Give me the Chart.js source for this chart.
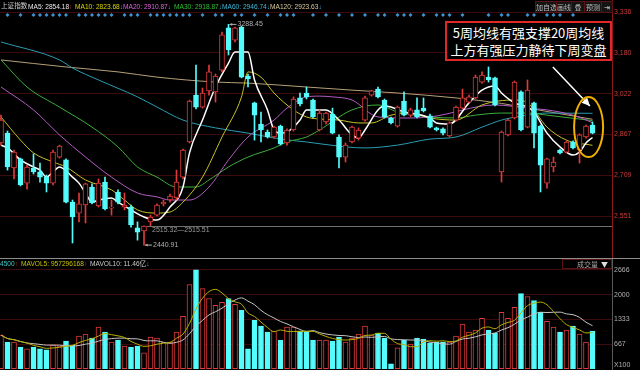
<!DOCTYPE html>
<html>
<head>
<meta charset="utf-8">
<title>上证指数 周K线</title>
<script src="https://cdn.jsdelivr.net/npm/chart.js@4.4.1/dist/chart.umd.min.js"></script>
<style>
  html, body { margin: 0; padding: 0; background: #000; }
  #wrap { position: relative; width: 640px; height: 370px; overflow: hidden; background: #000;
          font-family: "Liberation Sans", Arial, sans-serif; }
  #priceCanvas { position: absolute; left: 0; top: 0; }
  #volCanvas { position: absolute; left: 0; top: 259px; }
  .sep { position: absolute; left: 0; top: 258px; width: 640px; height: 1px; background: #8c8c8c; }
  .lbl { position: absolute; font-size: 6.6px; line-height: 9px; white-space: nowrap; }
  .cjk { font-family: "Noto Sans CJK SC", sans-serif; }
  .up { color: #ff3030; }
  .dn { color: #35b8e0; }
  .btn { position: absolute; top: 1px; height: 12px; box-sizing: border-box; border: 1px solid #5a1212;
         background: #141414; color: #bcbcbc; font: 7px "Noto Sans CJK SC", sans-serif; line-height: 10px;
         text-align: center; white-space: nowrap; }
  #note { position: absolute; left: 445px; top: 21px; width: 167px; height: 40px; box-sizing: border-box;
          border: 2px solid #e02828; background: #000; color: #fff; font: 13px "Noto Sans CJK SC", sans-serif;
          line-height: 17px; text-align: center; padding-top: 1px; }
  #volSel { position: absolute; left: 562px; top: 259px; width: 50px; height: 10px; box-sizing: border-box;
            border: 1px solid #5a1212; color: #a8a8a8; font: 7px "Noto Sans CJK SC", sans-serif; line-height: 8px; }
</style>
</head>
<body>
<div id="wrap">
  <canvas id="priceCanvas" width="640" height="258"></canvas>
  <div class="sep"></div>
  <canvas id="volCanvas" width="640" height="111"></canvas>

  <!-- top header -->
  <div class="lbl cjk" style="left:1px;top:1px;color:#d0d0d0">上证指数</div>
  <div class="lbl" style="left:28px;top:2px;color:#e8e8e8">MA5: 2854.18<span class="up">↑</span></div>
  <div class="lbl" style="left:75px;top:2px;color:#d8d800">MA10: 2823.68<span class="dn">↓</span></div>
  <div class="lbl" style="left:123px;top:2px;color:#e060e0">MA20: 2910.87<span class="dn">↓</span></div>
  <div class="lbl" style="left:174px;top:2px;color:#30c030">MA30: 2918.87<span class="dn">↓</span></div>
  <div class="lbl" style="left:222px;top:2px;color:#40b8d8">MA60: 2946.74<span class="dn">↓</span></div>
  <div class="lbl" style="left:270px;top:2px;color:#d8c8a0">MA120: 2923.63<span class="dn">↓</span></div>

  <div class="btn" style="left:535px;width:22px">加自选</div>
  <div class="btn" style="left:556px;width:16px">画线</div>
  <div class="btn" style="left:571px;width:14px">叠</div>
  <div class="btn" style="left:584px;width:18px">预测</div>
  <div class="btn" style="left:601px;width:12px;color:#e0e0e0">⇥</div>

  <div id="note">5周均线有强支撑20周均线<br>上方有强压力静待下周变盘</div>

  <!-- volume header -->
  <div class="lbl" style="left:0px;top:259px;color:#40c8c8">4500<span class="up">↑</span></div>
  <div class="lbl" style="left:21px;top:259px;color:#c8c000">MAVOL5: 957296168<span class="up">↑</span></div>
  <div class="lbl" style="left:90px;top:259px;color:#c8c8c8">MAVOL10: 11.46<span class="cjk">亿</span><span class="dn">↓</span></div>
  <div id="volSel"><span style="position:absolute;left:14px;top:0">成交量</span><span style="position:absolute;right:3px;top:0;color:#ddd">▼</span></div>
</div>

<script>
// weekly candles (index = week)
const openP = [2833, 2871, 2737, 2772, 2679, 2737, 2722, 2702, 2679, 2779,
  2768, 2606, 2564, 2595, 2664, 2591, 2683, 2583, 2645, 2587,
  2587, 2507, 2495, 2530, 2556, 2599, 2614, 2622, 2702, 2837,
  3017, 2971, 3033, 3029, 3113, 3275, 3228, 3278, 3090, 2987,
  2906, 2875, 2856, 2898, 2833, 2883, 3006, 3025, 2998, 2883,
  2914, 2944, 2856, 2779, 2837, 2852, 2921, 3017, 3040, 2998,
  2929, 2898, 2994, 2940, 2960, 2967, 2937, 2891, 2887, 2860,
  2921, 2967, 2990, 3006, 3067, 3086, 3083, 2722, 2864, 2929,
  3029, 2894, 2987, 2898, 2679, 2741, 2806, 2798, 2837, 2806,
  2856, 2902];
const highP = [2940, 2879, 2806, 2775, 2748, 2791, 2756, 2710, 2806, 2825,
  2772, 2614, 2641, 2679, 2676, 2695, 2702, 2614, 2653, 2641,
  2595, 2530, 2515.32, 2556, 2599, 2614, 2637, 2729, 2810, 2998,
  3132, 3044, 3132, 3098, 3259, 3288.45, 3278, 3282, 3098, 2990,
  2952, 2883, 2898, 2902, 2887, 3010, 3025, 3048, 3002, 2960,
  2952, 2967, 2864, 2833, 2898, 2891, 3013, 3036, 3048, 3002,
  2933, 2975, 3029, 2967, 3006, 3006, 2944, 2894, 2891, 2914,
  2975, 3040, 3017, 3094, 3106, 3125, 3086, 2879, 2925, 3071,
  3033, 3075, 2990, 2902, 2775, 2779, 2810, 2841, 2841, 2868,
  2902, 2914];
const lowP = [2825, 2729, 2695, 2668, 2656, 2714, 2683, 2645, 2672, 2775,
  2603, 2449, 2530, 2526, 2599, 2587, 2576, 2556, 2599, 2576,
  2510, 2460, 2440.91, 2515.51, 2553, 2591, 2606, 2614, 2695, 2833,
  2964, 2967, 3017, 2990, 3106, 3171, 3221, 3083, 3048, 2844,
  2837, 2852, 2852, 2825, 2825, 2879, 2975, 3002, 2929, 2879,
  2906, 2868, 2737, 2760, 2833, 2844, 2917, 3013, 3006, 2929,
  2906, 2894, 2937, 2933, 2929, 2952, 2891, 2879, 2864, 2856,
  2917, 2964, 2987, 3002, 3063, 3067, 2975, 2683, 2860, 2925,
  2879, 2891, 2814, 2645, 2660, 2722, 2791, 2795, 2810, 2756,
  2852, 2868];
const closeP = [2921, 2741, 2798, 2672, 2741, 2722, 2702, 2679, 2798, 2821,
  2606, 2549, 2599, 2676, 2603, 2679, 2580, 2587, 2606, 2595,
  2518, 2491, 2514, 2549, 2595, 2606, 2629, 2683, 2806, 2994,
  2971, 3025, 3106, 3090, 3248, 3190, 3275, 3086, 3079, 2940,
  2883, 2856, 2894, 2829, 2883, 3002, 2983, 3010, 2933, 2948,
  2948, 2871, 2779, 2825, 2894, 2883, 3006, 3033, 3010, 2933,
  2910, 2971, 2940, 2960, 2933, 2956, 2894, 2883, 2871, 2910,
  2971, 3006, 3010, 3086, 3094, 3075, 2979, 2875, 2921, 3067,
  2883, 3036, 2871, 2748, 2772, 2760, 2795, 2837, 2814, 2864,
  2898, 2871];
// weekly volume, in units of 1e6
const volume = [908, 721, 721, 587, 534, 587, 534, 507, 641, 614,
  748, 641, 881, 935, 828, 1121, 988, 721, 774, 614,
  587, 614, 427, 854, 828, 721, 721, 988, 1415, 2270,
  2670, 2163, 1896, 1709, 1789, 1896, 1736, 1575, 534, 1308,
  1148, 988, 1015, 774, 1121, 1121, 1015, 1015, 774, 774,
  774, 748, 854, 721, 828, 935, 1148, 908, 961, 828,
  134, 561, 774, 668, 828, 801, 694, 721, 721, 721,
  881, 1202, 988, 1041, 1362, 1041, 961, 1522, 1362, 1655,
  2029, 1949, 1842, 1522, 1282, 1121, 988, 1041, 1148, 935,
  721, 1015];

// moving-average lines: [week, value]
const ma5Pts = [[0,2825],[1,2814],[3,2768],[5,2741],[6,2729],[7,2702],[8,2722],[9,2741],[11,2702],[12,2679],
  [13,2641],[14,2606],[15,2614],[17,2622],[18,2606],[20,2576],[22,2549],[24,2537],[26,2587],[28,2664],
  [29,2795],[31,2921],[33,3048],[35,3140],[36,3182],[38,3182],[39,3075],[41,2960],[42,2883],[43,2871],
  [44,2875],[46,2921],[47,2960],[50,2960],[52,2921],[54,2864],[55,2852],[56,2883],[58,2960],[59,2975],
  [60,2971],[62,2952],[63,2948],[66,2929],[67,2910],[69,2906],[72,2987],[74,3036],[76,3052],[77,3025],
  [79,2987],[81,2971],[82,2952],[84,2871],[86,2818],[88,2787],[89,2798],[90,2833],[91,2854]];
const ma10Pts = [[0,2933],[3,2844],[5,2795],[8,2760],[10,2741],[13,2691],[17,2653],[19,2614],[21,2576],[24,2564],
  [26,2568],[28,2606],[31,2702],[34,2856],[37,3010],[38,3106],[40,3086],[42,3025],[45,2960],[47,2933],
  [49,2925],[52,2921],[55,2910],[57,2910],[60,2940],[63,2948],[66,2929],[70,2921],[74,2979],[79,2998],
  [81,2987],[84,2894],[87,2844],[91,2824]];
const ma20Pts = [[0,3048],[5,2960],[9,2864],[13,2779],[17,2702],[21,2641],[24,2626],[26,2614],[29,2614],[32,2664],
  [35,2768],[38,2856],[42,2921],[44,2967],[47,3010],[49,3013],[51,3010],[54,2998],[58,2933],[62,2929],
  [66,2933],[76,2979],[81,2967],[84,2960],[88,2940],[91,2911]];
const ma30Pts = [[0,3152],[4,3048],[9,2971],[14,2894],[18,2818],[21,2741],[24,2702],[27,2664],[30,2664],[32,2691],
  [35,2741],[38,2779],[42,2814],[44,2837],[47,2856],[49,2883],[54,2960],[58,2979],[61,2952],[66,2933],
  [70,2929],[73,2940],[77,2948],[81,2948],[84,2940],[91,2919]];
const ma60Pts = [[0,3221],[9,3152],[11,3121],[15,3075],[21,3010],[24,2971],[28,2921],[33,2891],[38,2871],[43,2848],
  [47,2837],[53,2818],[56,2814],[61,2825],[66,2848],[70,2856],[74,2894],[77,2921],[81,2940],[84,2948],[91,2947]];
const ma120Pts = [[0,3152],[10,3125],[18,3106],[24,3086],[33,3067],[38,3063],[47,3048],[54,3036],[61,3025],[70,3006],
  [77,2985],[81,2967],[91,2924]];

// axis ticks
const priceTicks = [3336, 3180, 3022, 2867, 2709, 2551];
const volTicks = [2666, 2000, 1333, 667, 100];
// weeks with a blue info marker on the top row
const markIdx = [1, 3, 5, 6, 7, 8, 9, 10, 12, 13, 14, 15, 16, 17, 19, 20, 21, 23, 24, 25, 26, 27, 28, 29,
  31, 33, 34, 36, 37, 39, 41, 43, 44, 45, 48, 50, 52, 54, 56, 58, 59, 61, 62, 63, 65, 67, 68, 69, 71,
  75, 77, 78, 81, 82, 84, 85, 86, 88];

const RED = '#e03a3a';
const CYAN = '#54fcfc';

const weeks = closeP.map((_, i) => i);
const isUp = i => closeP[i] >= openP[i];
const pts = arr => arr.map(([x, y]) => ({ x, y }));

function movingAvg(arr, n) {
  return arr.map((_, i) => {
    const win = arr.slice(Math.max(0, i - n + 1), i + 1);
    return win.reduce((a, b) => a + b, 0) / win.length;
  });
}

function arrow(ctx, x1, y1, x2, y2, head) {
  ctx.beginPath();
  ctx.moveTo(x1, y1);
  ctx.lineTo(x2, y2);
  ctx.stroke();
  const a = Math.atan2(y2 - y1, x2 - x1);
  ctx.beginPath();
  ctx.moveTo(x2, y2);
  ctx.lineTo(x2 - head * Math.cos(a - 0.45), y2 - head * Math.sin(a - 0.45));
  ctx.lineTo(x2 - head * Math.cos(a + 0.45), y2 - head * Math.sin(a + 0.45));
  ctx.closePath();
  ctx.fill();
}

// annotation anchors in data space
const noteArrow = { from: [84.9, 3125], to: [90.6, 2975] };
const noteRing = { at: [90.4, 2894], rx: 14.5, ry: 30 };

const priceNotes = {
  id: 'priceNotes',
  afterDatasetsDraw(chart) {
    const { ctx, chartArea, scales: { x, y } } = chart;
    ctx.save();

    // info markers
    ctx.fillStyle = '#3f93cf';
    markIdx.forEach(i => {
      const px = x.getPixelForValue(i);
      ctx.beginPath();
      ctx.moveTo(px, 13); ctx.lineTo(px + 2, 15); ctx.lineTo(px, 17); ctx.lineTo(px - 2, 15);
      ctx.closePath();
      ctx.fill();
    });

    ctx.font = '7px "Liberation Sans", Arial, sans-serif';
    ctx.textBaseline = 'middle';
    ctx.strokeStyle = '#b0b0b0';
    ctx.fillStyle = '#b0b0b0';
    ctx.lineWidth = 1;

    // highest high / lowest low tags
    const hi = highP.indexOf(Math.max(...highP));
    const lo = lowP.indexOf(Math.min(...lowP));
    [[hi, highP[hi]], [lo, lowP[lo]]].forEach(([i, v]) => {
      const px = x.getPixelForValue(i), py = y.getPixelForValue(v);
      arrow(ctx, px + 8, py, px + 1, py, 3);
      ctx.fillText(v.toFixed(2), px + 9, py);
    });

    // gap line between two weeks
    const gi = 22;
    const gy = Math.round(y.getPixelForValue(highP[gi])) + 0.5;
    ctx.strokeStyle = '#6e6e6e';
    ctx.beginPath();
    ctx.moveTo(x.getPixelForValue(gi) + 3, gy);
    ctx.lineTo(chartArea.right, gy);
    ctx.stroke();
    ctx.fillStyle = '#9a9a9a';
    ctx.fillText(highP[gi].toFixed(2) + '—' + lowP[gi + 1].toFixed(2), x.getPixelForValue(gi) + 8, gy + 4);

    // white arrow and yellow ring
    ctx.strokeStyle = '#ffffff';
    ctx.fillStyle = '#ffffff';
    ctx.lineWidth = 1.5;
    arrow(ctx, x.getPixelForValue(noteArrow.from[0]), y.getPixelForValue(noteArrow.from[1]),
      x.getPixelForValue(noteArrow.to[0]), y.getPixelForValue(noteArrow.to[1]), 9);
    ctx.strokeStyle = '#f0b000';
    ctx.lineWidth = 2;
    ctx.beginPath();
    ctx.ellipse(x.getPixelForValue(noteRing.at[0]), y.getPixelForValue(noteRing.at[1]),
      noteRing.rx, noteRing.ry, 0, 0, Math.PI * 2);
    ctx.stroke();
    ctx.restore();
  }
};

const tickFont = { size: 7, family: '"Liberation Sans", Arial, sans-serif' };
const xAxis = { type: 'linear', min: -0.154, max: 94, offset: false, display: false, grid: { offset: false } };
const lineDs = (data, color, width, order) => ({
  type: 'line', data, borderColor: color, borderWidth: width, pointRadius: 0,
  cubicInterpolationMode: 'monotone', order
});

new Chart(document.getElementById('priceCanvas'), {
  type: 'bar',
  data: {
    datasets: [
      lineDs(pts(ma120Pts), '#b4a078', 1, 20),
      lineDs(pts(ma60Pts), '#2a9cb0', 1, 19),
      lineDs(pts(ma30Pts), '#3cae3c', 1, 18),
      lineDs(pts(ma20Pts), '#b45cc4', 1, 17),
      lineDs(pts(ma10Pts), '#c8c028', 1, 16),
      lineDs(pts(ma5Pts), '#ffffff', 1.5, 15),
      {
        data: weeks.map(i => ({ x: i, y: [lowP[i], highP[i]] })),
        backgroundColor: weeks.map(i => isUp(i) ? RED : CYAN),
        barThickness: 1, grouped: false, order: 2
      },
      {
        data: weeks.map(i => ({ x: i, y: [openP[i], closeP[i]] })),
        backgroundColor: weeks.map(i => isUp(i) ? '#000' : CYAN),
        borderColor: weeks.map(i => isUp(i) ? RED : CYAN),
        borderWidth: 1, borderSkipped: false, minBarLength: 1,
        barThickness: 5, grouped: false, order: 1
      }
    ]
  },
  options: {
    responsive: false,
    animation: false,
    events: [],
    layout: { padding: 0 },
    plugins: { legend: { display: false }, tooltip: { enabled: false } },
    scales: {
      x: xAxis,
      y: {
        position: 'right',
        min: 2391.4,
        max: 3382.1,
        afterBuildTicks: s => { s.ticks = priceTicks.map(v => ({ value: v })); },
        afterFit: s => { s.width = 28; s.paddingTop = 0; s.paddingBottom = 0; },
        ticks: { color: '#c83a3a', font: tickFont, padding: 2 },
        grid: { color: '#3c0c0c', drawTicks: false },
        border: { color: '#8a1818' }
      }
    }
  },
  plugins: [priceNotes]
});

new Chart(document.getElementById('volCanvas'), {
  type: 'bar',
  data: {
    datasets: [
      lineDs(weeks.map(i => ({ x: i, y: movingAvg(volume, 10)[i] })), '#c4c4c4', 1, 1),
      lineDs(weeks.map(i => ({ x: i, y: movingAvg(volume, 5)[i] })), '#b8b000', 1, 0),
      {
        data: weeks.map(i => ({ x: i, y: volume[i] })),
        backgroundColor: weeks.map(i => isUp(i) ? '#000' : CYAN),
        borderColor: weeks.map(i => isUp(i) ? RED : CYAN),
        borderWidth: 1, borderSkipped: false,
        barThickness: 5, grouped: false, order: 5
      }
    ]
  },
  options: {
    responsive: false,
    animation: false,
    events: [],
    layout: { padding: 0 },
    plugins: { legend: { display: false }, tooltip: { enabled: false } },
    scales: {
      x: xAxis,
      y: {
        position: 'right',
        min: -35,
        max: 2962,
        afterBuildTicks: s => { s.ticks = volTicks.map(v => ({ value: v })); },
        afterFit: s => { s.width = 28; s.paddingTop = 0; s.paddingBottom = 0; },
        ticks: { color: '#b0b0b0', font: tickFont, padding: 2,
                 callback: v => v === 100 ? 'X100' : String(v) },
        grid: { color: c => (c.tick && c.tick.value === 100) ? 'rgba(0,0,0,0)' : '#3c0c0c', drawTicks: false },
        border: { color: '#5a5a5a' }
      }
    }
  }
});
</script>
</body>
</html>
